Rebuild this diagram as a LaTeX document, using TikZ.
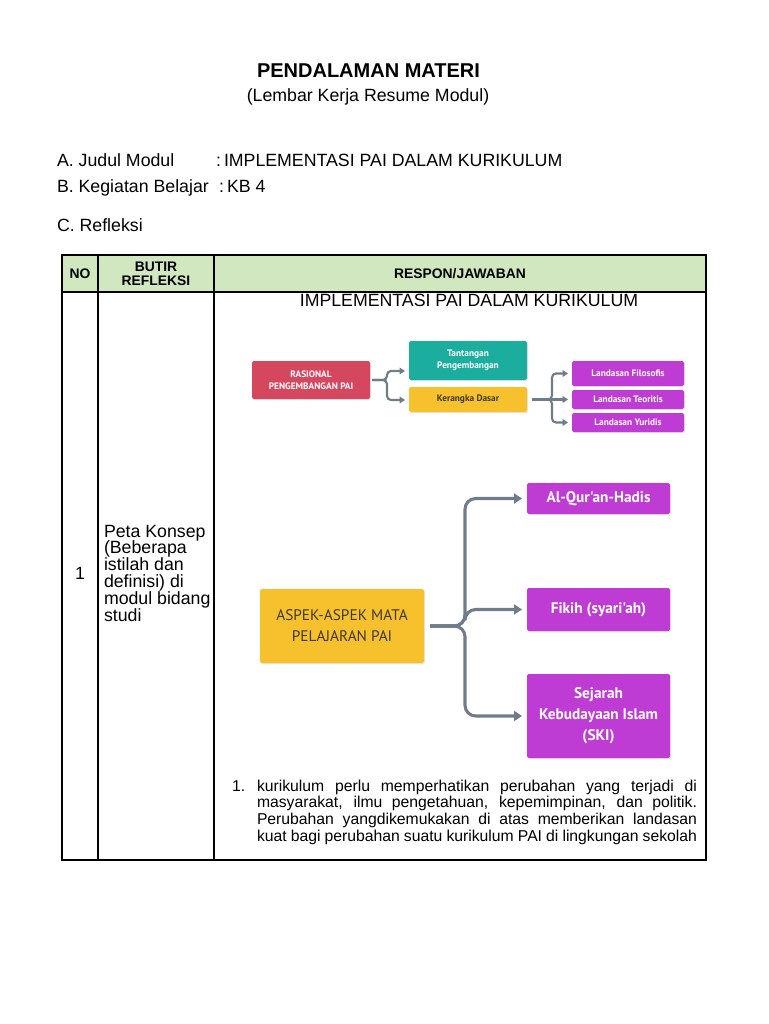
\documentclass[tikz,border=0pt]{standalone}
\usepackage{fontspec}
\setmainfont{Liberation Sans}
\newfontfamily\boxfont{PT Sans}
\usetikzlibrary{arrows.meta,calc,shadows}
\definecolor{hdrgreen}{HTML}{D0E7BF}
\definecolor{crim}{HTML}{D5475E}
\definecolor{teal2}{HTML}{1BAE9F}
\definecolor{yel}{HTML}{F6C12D}
\definecolor{purp}{HTML}{BE3CD3}
\definecolor{connc}{HTML}{6E7D89}
\definecolor{darktext}{HTML}{3E3826}
\begin{document}
\begin{tikzpicture}[x=0.75pt,y=-0.75pt,
  every node/.style={inner sep=0pt, outer sep=0pt},
  body/.style={font=\fontsize{13.3}{15}\selectfont},
  hdr/.style={font=\bfseries\fontsize{10.4}{10.8}\selectfont, align=center},
  grid/.style={draw=black, line width=0.8pt},
  cbox/.style={rectangle, rounded corners=1.2pt, align=center,
    drop shadow={shadow xshift=0.6pt, shadow yshift=-0.8pt, opacity=0.2}},
  smallbox/.style={cbox, font=\boxfont\bfseries\fontsize{7}{8.8}\selectfont, text=white},
  largebox/.style={cbox, font=\boxfont\bfseries\fontsize{11.5}{15.75}\selectfont, text=white, fill=purp,
    minimum width=107.25pt},
  connS/.style={draw=connc, line width=1.6pt, rounded corners=3pt, -{Triangle[length=4pt,width=5pt]}},
  connL/.style={draw=connc, line width=2.3pt, rounded corners=8pt, -{Triangle[length=6pt,width=7.5pt]}},
  listfont/.style={font=\fontsize{11.8}{12.5}\selectfont},
]
\useasboundingbox (0,0) rectangle (768,1024);
\fill[white] (0,0) rectangle (768,1024);

% heading
\node[font=\bfseries\fontsize{15}{18}\selectfont, anchor=base] (title) at (368.5,78) {PENDALAMAN MATERI};
\node[body, anchor=base] (sub) at (368,102) {(Lembar Kerja Resume Modul)};
\node[body, anchor=base west] (a) at (57,166) {A. Judul Modul};
\node[body, anchor=base west] (acolon) at (216,166) {:};
\node[body, anchor=base west] (aval) at (224,166) {IMPLEMENTASI PAI DALAM KURIKULUM};
\node[body, anchor=base west] (b) at (57,192) {B. Kegiatan Belajar};
\node[body, anchor=base west] (bcolon) at (219,192) {:};
\node[body, anchor=base west] (bval) at (227,192) {KB 4};
\node[body, anchor=base west] (c) at (57,231) {C. Refleksi};

% table
\fill[hdrgreen] (62,255) rectangle (706,292);
\draw[grid] (62,255) rectangle (706,860);
\draw[grid] (62,292) -- (706,292);
\draw[grid] (98,255) -- (98,860);
\draw[grid] (214,255) -- (214,860);

\node[hdr] (hno) at (80,273.5) {NO};
\node[hdr] (hbutir) at (156,273.5) {BUTIR\\REFLEKSI};
\node[hdr] (hresp) at (460,273.5) {RESPON/JAWABAN};

\node[body] (no1) at (80,573) {1};
\node[anchor=west, align=left, font=\fontsize{13.3}{12.6}\selectfont] (butir1) at (104,573)
  {Peta Konsep\\(Beberapa\\istilah dan\\definisi) di\\modul bidang\\studi};

\node[body, anchor=base] (ttl) at (469,306) {IMPLEMENTASI PAI DALAM KURIKULUM};

% upper diagram
\node[smallbox, fill=crim, minimum width=88.5pt, minimum height=28.5pt] (ras) at (311,380) {RASIONAL\\PENGEMBANGAN PAI};
\node[smallbox, fill=teal2, minimum width=88.5pt, minimum height=29.25pt] (tant) at (468,360.5) {Tantangan\\Pengembangan};
\node[smallbox, fill=yel, text=darktext, minimum width=88.5pt, minimum height=18.75pt] (ker) at (468,399.5) {Kerangka Dasar};
\node[smallbox, fill=purp, minimum width=84pt, minimum height=18.75pt] (filo) at (628,373.5) {Landasan Filosofis};
\node[smallbox, fill=purp, minimum width=84pt, minimum height=14.25pt] (teor) at (628,399.5) {Landasan Teoritis};
\node[smallbox, fill=purp, minimum width=84pt, minimum height=14.25pt] (yuri) at (628,422.5) {Landasan Yuridis};

\coordinate (j1) at (387,380);
\coordinate (j2) at (552,399.5);
\draw[connS, shorten <=1.5pt] (ras.east) -- (j1) |- ($(tant.west)+(-4,10.5)$);
\draw[connS, shorten <=1.5pt] (ras.east) -- (j1) |- ($(ker.west)+(-4,0.5)$);
\draw[connS, shorten <=4pt] (ker.east) -- (j2) |- ($(filo.west)+(-4,0)$);
\draw[connS, shorten <=4pt] (ker.east) -- ($(teor.west)+(-4,0)$);
\draw[connS, shorten <=4pt] (ker.east) -- (j2) |- ($(yuri.west)+(-4,0)$);

% lower diagram
\node[cbox, fill=yel, text=darktext, font=\boxfont\fontsize{11.5}{15.75}\selectfont,
  minimum width=123pt, minimum height=55.5pt] (asp) at (342,626) {ASPEK-ASPEK MATA\\PELAJARAN PAI};
\node[largebox, minimum height=23.25pt] (alq) at (598.5,498.5) {Al-Qur'an-Hadis};
\node[largebox, minimum height=32.25pt] (fik) at (598.5,609.5) {Fikih (syari'ah)};
\node[largebox, minimum height=63pt] (ski) at (598.5,716) {Sejarah\\Kebudayaan Islam\\(SKI)};

\coordinate (j3) at (465,626);
\draw[connL, shorten <=4.5pt] (asp.east) -- (j3) |- ($(alq.west)+(-5,0)$);
\draw[connL, shorten <=4.5pt] (asp.east) -- (j3) |- ($(fik.west)+(-5,0)$);
\draw[connL, shorten <=4.5pt] (asp.east) -- (j3) |- ($(ski.west)+(-5,0)$);

% list text
\node[listfont, anchor=base west] (li1) at (232,791) {1.};
\node[listfont, anchor=base west, align=left] (litext) at (257,841)
  {\makebox[330pt][s]{kurikulum perlu memperhatikan perubahan yang terjadi di}\\
   \makebox[330pt][s]{masyarakat, ilmu pengetahuan, kepemimpinan, dan politik.}\\
   \makebox[330pt][s]{Perubahan yangdikemukakan di atas memberikan landasan}\\
   \makebox[330pt][s]{kuat bagi perubahan suatu kurikulum PAI di lingkungan sekolah}};
\end{tikzpicture}
\end{document}
